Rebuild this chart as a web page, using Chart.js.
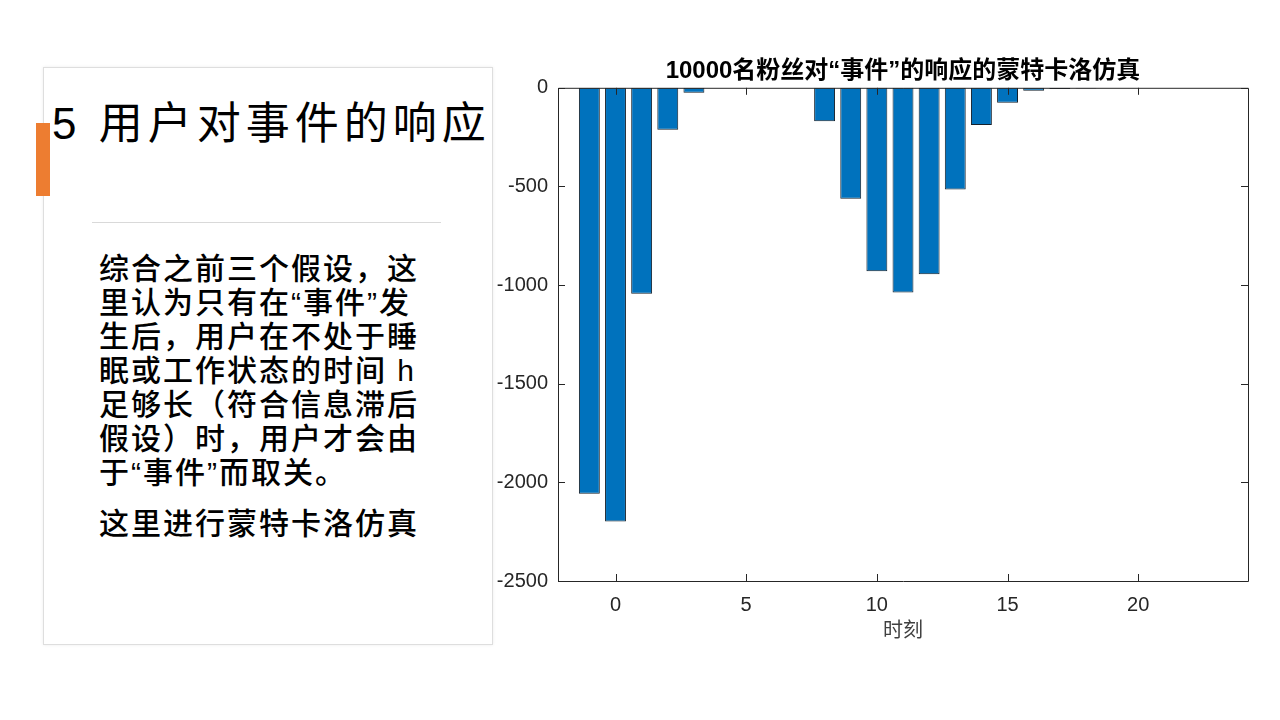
<!DOCTYPE html>
<html>
<head>
<meta charset="utf-8">
<script src="https://cdn.jsdelivr.net/npm/chart.js@4"></script>
<style>
body { margin: 0; width: 1280px; height: 720px; background: #fff; position: relative; overflow: hidden; font-family: "Liberation Sans", "Noto Sans CJK SC", sans-serif; }
#panel { position: absolute; left: 43px; top: 67px; width: 448px; height: 576px; border: 1px solid #dedede; box-shadow: 0 0 3px rgba(0,0,0,0.08); background: #fff; }
#accent { position: absolute; left: 36px; top: 123px; width: 14px; height: 73px; background: #ed7d31; }
#heading { position: absolute; left: 52px; top: 94px; font-size: 44px; line-height: 60px; letter-spacing: 5px; color: #000; white-space: nowrap; }
#rule { position: absolute; left: 92px; top: 222px; width: 349px; height: 1px; background: #d9d9d9; }
#body { position: absolute; left: 99px; top: 252px; font-size: 30px; line-height: 34px; letter-spacing: 2px; color: #000; font-weight: 500; white-space: nowrap; }
#body p { margin: 0 0 17px 0; }
#wrap { position: absolute; left: 470px; top: 48px; width: 800px; height: 610px; }
</style>
</head>
<body>
<div id="panel"></div>
<div id="accent"></div>
<div id="heading">5 用户对事件的响应</div>
<div id="rule"></div>
<div id="body">
<p>综合之前三个假设，这<br>里认为只有在“事件”发<br>生后，用户在不处于睡<br>眠或工作状态的时间 h<br>足够长（符合信息滞后<br>假设）时，用户才会由<br>于“事件”而取关。</p>
<p>这里进行蒙特卡洛仿真</p>
</div>
<div id="wrap"><canvas id="chart"></canvas></div>
<script>
// 时刻 and the simulated change in fans at each moment
const times = [-1, 0, 1, 2, 3, 4, 5, 6, 7, 8, 9, 10, 11, 12, 13, 14, 15, 16, 17, 18];
const fanChange = [-2058, -2198, -1044, -213, -25, 0, 0, 0, 0, -170, -563, -930, -1037, -945, -516, -189, -76, -15, -6, -3];
const xTicks = [0, 5, 10, 15, 20];
const yTicks = [0, -500, -1000, -1500, -2000, -2500];

const axisColor = '#262626';

// MATLAB-style box with inward tick marks
const boxTicks = {
  id: 'boxTicks',
  afterDatasetsDraw(chart) {
    const { ctx, chartArea: a, scales } = chart;
    const len = 7;
    ctx.save();
    ctx.strokeStyle = axisColor;
    ctx.lineWidth = 1;
    ctx.beginPath();
    ctx.rect(a.left + 0.5, a.top + 0.5, a.right - a.left, a.bottom - a.top);
    xTicks.forEach(v => {
      const x = Math.round(scales.x.getPixelForValue(v)) + 0.5;
      ctx.moveTo(x, a.bottom); ctx.lineTo(x, a.bottom - len);
      ctx.moveTo(x, a.top); ctx.lineTo(x, a.top + len);
    });
    yTicks.forEach(v => {
      const y = Math.round(scales.y.getPixelForValue(v)) + 0.5;
      ctx.moveTo(a.left, y); ctx.lineTo(a.left + len, y);
      ctx.moveTo(a.right, y); ctx.lineTo(a.right - len, y);
    });
    ctx.stroke();
    ctx.restore();
  }
};

new Chart(document.getElementById('chart'), {
  type: 'bar',
  data: {
    datasets: [{
      data: times.map((t, i) => ({ x: t, y: fanChange[i] })),
      backgroundColor: '#0072bd',
      borderColor: '#15202b',
      borderWidth: 1,
      borderSkipped: false,
      barPercentage: 0.8,
      categoryPercentage: 1
    }]
  },
  options: {
    responsive: true,
    maintainAspectRatio: false,
    animation: false,
    layout: { padding: { top: 0, right: 22, bottom: 17, left: 0 } },
    plugins: {
      legend: { display: false },
      tooltip: { enabled: false },
      title: {
        display: true,
        fullSize: false,
        text: '10000名粉丝对“事件”的响应的蒙特卡洛仿真',
        color: '#000',
        font: { family: "'Liberation Sans', 'Noto Sans CJK SC'", size: 24, weight: 'bold' },
        padding: { top: 9, bottom: 2 }
      }
    },
    scales: {
      x: {
        type: 'linear',
        min: -2.2,
        max: 24.2,
        offset: false,
        grid: { display: false, drawTicks: false },
        border: { display: false },
        afterBuildTicks: s => { s.ticks = xTicks.map(v => ({ value: v })); },
        afterFit: s => { s.height = 60; },
        ticks: {
          padding: 12,
          color: axisColor,
          font: { family: "'Liberation Sans'", size: 20 },
          maxRotation: 0,
          callback: v => String(v)
        },
        title: {
          display: true,
          text: '时刻',
          color: '#404040',
          font: { family: "'Noto Sans CJK SC'", size: 20 },
          padding: { top: 1, bottom: 0 }
        }
      },
      y: {
        min: -2500,
        max: 0,
        grid: { display: false, drawTicks: false },
        border: { display: false },
        afterBuildTicks: s => { s.ticks = yTicks.map(v => ({ value: v })); },
        afterFit: s => { s.width = 88; },
        ticks: {
          padding: 10,
          color: axisColor,
          font: { family: "'Liberation Sans'", size: 20 },
          callback: v => String(v)
        }
      }
    }
  },
  plugins: [boxTicks]
});
</script>
</body>
</html>
